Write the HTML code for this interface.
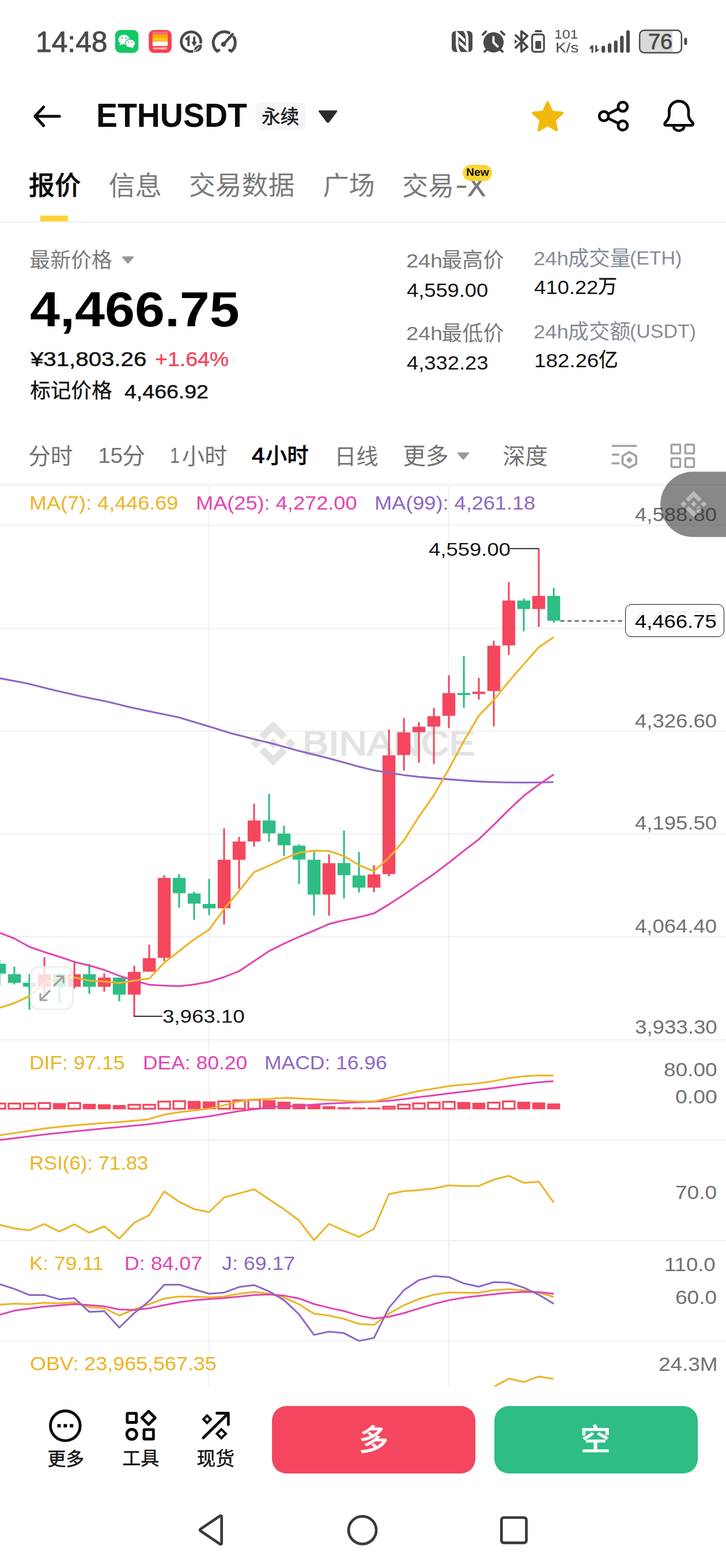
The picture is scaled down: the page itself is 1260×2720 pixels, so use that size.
<!DOCTYPE html>
<html lang="en"><head><meta charset="utf-8"><title>ETHUSDT</title>
<style>
html,body{margin:0;padding:0;background:#fff}
body{width:1260px;height:2720px;position:relative;overflow:hidden;font-family:"Liberation Sans",sans-serif}
.a{position:absolute;display:block}
.t{position:absolute;white-space:nowrap;transform-origin:0 0;margin:0;padding:0}
.ln{position:absolute;left:0;width:1260px;height:2px;background:#eeeeee}
svg text{font-family:"Liberation Sans","Noto Sans CJK SC",sans-serif}
</style></head><body>

<div class="t" style="left:524.8px;top:1258.3px;font-size:61.48px;line-height:61.48px;color:#e3e3e3;transform:scaleX(1.0952);-webkit-text-stroke:2.100px #e3e3e3;">BINANCE</div>
<svg class="a" style="left:0;top:0" width="1260" height="2420" viewBox="0 0 1260 2420">
<rect x="361.9" y="842" width="1.7" height="1563" fill="#eeeeee"/>
<rect x="777.9" y="842" width="1.7" height="1563" fill="#eeeeee"/>
<rect x="0" y="910.4" width="1260" height="1.8" fill="#eeeeee"/>
<rect x="0" y="1088.9" width="1260" height="1.8" fill="#eeeeee"/>
<rect x="0" y="1267.3" width="1260" height="1.8" fill="#eeeeee"/>
<rect x="0" y="1445.7" width="1260" height="1.8" fill="#eeeeee"/>
<rect x="0" y="1624.1" width="1260" height="1.8" fill="#eeeeee"/>
<rect x="0" y="1802.7" width="1260" height="1.8" fill="#eeeeee"/>
<rect x="0" y="1976.8" width="1260" height="1.8" fill="#eeeeee"/>
<rect x="0" y="2151.1" width="1260" height="1.8" fill="#eeeeee"/>
<rect x="0" y="2324.6" width="1260" height="1.8" fill="#eeeeee"/>
<g fill="#e3e3e3">
<path  transform="translate(435.5 1251) scale(0.6111)" d="M38.17 53.2 63 28.4l24.8 24.8 14.5-14.4L63-.5 23.8 38.8zM-.5 63 13.9 48.6 28.3 63 13.9 77.4zM38.17 72.8 63 97.6l24.8-24.8 14.5 14.4L63 126.5 23.8 87.2zM97.7 63l14.4-14.4L126.5 63l-14.4 14.4zM77.6 63 63 48.3 52.2 59.1l-1.3 1.2-2.5 2.6L63 77.6 77.7 63z"/>
</g>
<rect x="-2.5" y="1665" width="3.1" height="45" fill="#2ebd85"/>
<rect x="-12.2" y="1671.8" width="22.4" height="17.1" fill="#2ebd85"/>
<rect x="23.4" y="1677" width="3.1" height="30.7" fill="#2ebd85"/>
<rect x="13.8" y="1690" width="22.4" height="14.9" fill="#2ebd85"/>
<rect x="49.5" y="1689.8" width="3.1" height="61.8" fill="#2ebd85"/>
<rect x="39.8" y="1704.9" width="22.4" height="6.8" fill="#2ebd85"/>
<rect x="75.5" y="1660.4" width="3.1" height="64.6" fill="#f4475e"/>
<rect x="65.8" y="1690" width="22.4" height="21.7" fill="#f4475e"/>
<rect x="101.5" y="1688" width="3.1" height="52" fill="#2ebd85"/>
<rect x="91.8" y="1690" width="22.4" height="21.7" fill="#2ebd85"/>
<rect x="127.5" y="1669.3" width="3.1" height="45.5" fill="#f4475e"/>
<rect x="117.8" y="1690" width="22.4" height="21.7" fill="#f4475e"/>
<rect x="153.4" y="1671.8" width="3.1" height="52.2" fill="#2ebd85"/>
<rect x="143.8" y="1690" width="22.4" height="21.7" fill="#2ebd85"/>
<rect x="179.4" y="1688.3" width="3.1" height="32" fill="#f4475e"/>
<rect x="169.8" y="1695.8" width="22.4" height="15.9" fill="#f4475e"/>
<rect x="205.4" y="1695.8" width="3.1" height="41" fill="#2ebd85"/>
<rect x="195.8" y="1695.8" width="22.4" height="29.6" fill="#2ebd85"/>
<rect x="231.4" y="1675.2" width="3.1" height="87.8" fill="#f4475e"/>
<rect x="221.8" y="1686" width="22.4" height="39.4" fill="#f4475e"/>
<rect x="257.4" y="1638.8" width="3.1" height="46.7" fill="#f4475e"/>
<rect x="247.8" y="1662.1" width="22.4" height="23.4" fill="#f4475e"/>
<rect x="283.4" y="1518.2" width="3.1" height="148.8" fill="#f4475e"/>
<rect x="273.8" y="1523" width="22.4" height="138.6" fill="#f4475e"/>
<rect x="309.4" y="1516.7" width="3.1" height="57.9" fill="#2ebd85"/>
<rect x="299.8" y="1523" width="22.4" height="26.5" fill="#2ebd85"/>
<rect x="335.4" y="1546.7" width="3.1" height="48.7" fill="#2ebd85"/>
<rect x="325.8" y="1550" width="22.4" height="17.5" fill="#2ebd85"/>
<rect x="361.4" y="1524.7" width="3.1" height="62.7" fill="#2ebd85"/>
<rect x="351.8" y="1568" width="22.4" height="7.7" fill="#2ebd85"/>
<rect x="387.4" y="1437" width="3.1" height="166.7" fill="#f4475e"/>
<rect x="377.8" y="1491.4" width="22.4" height="84.3" fill="#f4475e"/>
<rect x="413.4" y="1451.8" width="3.1" height="90" fill="#f4475e"/>
<rect x="403.8" y="1459.7" width="22.4" height="31.7" fill="#f4475e"/>
<rect x="439.4" y="1394.2" width="3.1" height="74.4" fill="#f4475e"/>
<rect x="429.8" y="1423.3" width="22.4" height="36.4" fill="#f4475e"/>
<rect x="465.4" y="1377.1" width="3.1" height="83.2" fill="#2ebd85"/>
<rect x="455.8" y="1423.3" width="22.4" height="22.2" fill="#2ebd85"/>
<rect x="491.4" y="1432.4" width="3.1" height="52.4" fill="#2ebd85"/>
<rect x="481.8" y="1446" width="22.4" height="20.3" fill="#2ebd85"/>
<rect x="517.5" y="1464.9" width="3.1" height="68.4" fill="#2ebd85"/>
<rect x="507.8" y="1466.9" width="22.4" height="24.2" fill="#2ebd85"/>
<rect x="543.5" y="1476.8" width="3.1" height="111.2" fill="#2ebd85"/>
<rect x="533.8" y="1491.4" width="22.4" height="60.4" fill="#2ebd85"/>
<rect x="569.5" y="1482" width="3.1" height="106.6" fill="#f4475e"/>
<rect x="559.8" y="1497.4" width="22.4" height="54.4" fill="#f4475e"/>
<rect x="595.5" y="1440.8" width="3.1" height="117.7" fill="#2ebd85"/>
<rect x="585.8" y="1497.2" width="22.4" height="21.1" fill="#2ebd85"/>
<rect x="621.5" y="1478.1" width="3.1" height="70.2" fill="#2ebd85"/>
<rect x="611.8" y="1518.6" width="22.4" height="21.1" fill="#2ebd85"/>
<rect x="647.5" y="1500.7" width="3.1" height="47" fill="#f4475e"/>
<rect x="637.8" y="1516.9" width="22.4" height="22.8" fill="#f4475e"/>
<rect x="673.5" y="1265.5" width="3.1" height="254.8" fill="#f4475e"/>
<rect x="663.8" y="1310.3" width="22.4" height="206" fill="#f4475e"/>
<rect x="699.5" y="1245.6" width="3.1" height="90.9" fill="#f4475e"/>
<rect x="689.8" y="1270.4" width="22.4" height="39.3" fill="#f4475e"/>
<rect x="725.5" y="1253" width="3.1" height="70.1" fill="#f4475e"/>
<rect x="715.8" y="1260.7" width="22.4" height="9.4" fill="#f4475e"/>
<rect x="751.5" y="1227.9" width="3.1" height="97.5" fill="#f4475e"/>
<rect x="741.8" y="1242.3" width="22.4" height="18.1" fill="#f4475e"/>
<rect x="777.5" y="1171.4" width="3.1" height="91.6" fill="#f4475e"/>
<rect x="767.8" y="1202.3" width="22.4" height="39.4" fill="#f4475e"/>
<rect x="803.5" y="1138" width="3.1" height="89.8" fill="#2ebd85"/>
<rect x="793.8" y="1202.1" width="22.4" height="3.5" fill="#2ebd85"/>
<rect x="829.5" y="1175.9" width="3.1" height="37.6" fill="#f4475e"/>
<rect x="819.8" y="1199.9" width="22.4" height="3.9" fill="#f4475e"/>
<rect x="855.5" y="1111.5" width="3.1" height="148.5" fill="#f4475e"/>
<rect x="845.8" y="1120.1" width="22.4" height="78.6" fill="#f4475e"/>
<rect x="881.5" y="1009.8" width="3.1" height="126.2" fill="#f4475e"/>
<rect x="871.8" y="1041.7" width="22.4" height="77.8" fill="#f4475e"/>
<rect x="907.5" y="1038.3" width="3.1" height="56.7" fill="#2ebd85"/>
<rect x="897.8" y="1041.7" width="22.4" height="14.8" fill="#2ebd85"/>
<rect x="933.5" y="951.9" width="3.1" height="135.7" fill="#f4475e"/>
<rect x="923.8" y="1033.7" width="22.4" height="22.8" fill="#f4475e"/>
<rect x="959.5" y="1019.7" width="3.1" height="60.7" fill="#2ebd85"/>
<rect x="949.8" y="1033.7" width="22.4" height="43" fill="#2ebd85"/>
<polyline fill="none" stroke="#8d67c3" stroke-width="3.1" stroke-linejoin="round" stroke-linecap="butt" points="-5,1175.6 0,1176.6 46.9,1185.5 93.9,1197.3 140.8,1208.1 187.8,1217.5 225.3,1226.8 262.9,1234.8 309.8,1244.2 338,1252.7 363.8,1260.6 399,1271.4 441.2,1282.2 474.1,1290.2 516.3,1301.9 540,1307.7 570.5,1315.4 596.4,1322.5 622.4,1329.7 648.6,1336.2 674.5,1340.2 700.4,1344.5 726.4,1347.6 752.6,1349.9 778.5,1351.9 804.5,1353.9 830.4,1355.6 856.6,1356.7 880,1357.3 908.5,1357.5 934.5,1357.3 960.5,1356.7"/>
<polyline fill="none" stroke="#e144b4" stroke-width="3.1" stroke-linejoin="round" stroke-linecap="butt" points="-1,1618 25,1628 51,1642.5 77,1651.5 103,1659.8 129,1668.4 155,1675 181,1682.6 207,1692.6 233,1701 259,1708.3 285,1709.7 311,1710.8 337,1707.8 363,1703 389,1694.9 415,1684.6 441,1667.2 467,1649.8 493,1636.8 519,1625.2 545,1614.2 571,1602.8 597,1596.5 623,1591 649,1584.4 675,1568.8 701,1552 727,1534 753,1516.3 779,1496.4 805,1475.9 831,1455.9 857,1430.8 883,1404.9 909,1380.6 935,1361.3 961,1343.4"/>
<polyline fill="none" stroke="#ebb424" stroke-width="3.1" stroke-linejoin="round" stroke-linecap="butt" points="-1,1748.5 25,1740 51,1728 77,1705.4 103,1695.5 129,1695.5 155,1701 181,1702.6 207,1705.4 233,1701 259,1697.5 285,1670 311,1649.7 337,1629.5 363,1612.5 389,1576.7 415,1545.2 441,1513 467,1501.6 493,1489.7 519,1479.1 545,1475.6 571,1476.2 597,1485 623,1500.7 649,1511.2 675,1487.8 701,1457.9 727,1416.6 753,1379.5 779,1333.9 805,1285.5 831,1241.4 857,1214.6 883,1182.2 909,1152.3 935,1122.9 961,1105.2"/>
<path d="M885.2 951.6H935.2M232 1762.9H281.7" stroke="#111" stroke-width="1.7" fill="none"/>
<path d="M972.400 1077.300H1084" stroke="#111" stroke-width="1.6" stroke-dasharray="7.2 5.3" fill="none"/>
<rect x="-11.1" y="1914.3" width="20.2" height="9" fill="#fff" stroke="#f4475e" stroke-width="3.2"/>
<rect x="14.9" y="1914.3" width="20.2" height="9" fill="#fff" stroke="#f4475e" stroke-width="3.2"/>
<rect x="40.9" y="1914.3" width="20.2" height="9" fill="#fff" stroke="#f4475e" stroke-width="3.2"/>
<rect x="66.9" y="1913.4" width="20.2" height="9.9" fill="#fff" stroke="#f4475e" stroke-width="3.2"/>
<rect x="91.8" y="1913.5" width="22.4" height="10.8" fill="#f4475e"/>
<rect x="118.9" y="1913.4" width="20.2" height="9.9" fill="#fff" stroke="#f4475e" stroke-width="3.2"/>
<rect x="143.8" y="1914.8" width="22.4" height="9.5" fill="#f4475e"/>
<rect x="169.8" y="1915.6" width="22.4" height="8.7" fill="#f4475e"/>
<rect x="195.8" y="1916.9" width="22.4" height="7.4" fill="#f4475e"/>
<rect x="222.9" y="1916.4" width="20.2" height="6.9" fill="#fff" stroke="#f4475e" stroke-width="3.2"/>
<rect x="248.9" y="1916.4" width="20.2" height="6.9" fill="#fff" stroke="#f4475e" stroke-width="3.2"/>
<rect x="274.9" y="1910.9" width="20.2" height="12.4" fill="#fff" stroke="#f4475e" stroke-width="3.2"/>
<rect x="300.9" y="1910.1" width="20.2" height="13.2" fill="#fff" stroke="#f4475e" stroke-width="3.2"/>
<rect x="325.8" y="1909.7" width="22.4" height="14.6" fill="#f4475e"/>
<rect x="351.8" y="1910.6" width="22.4" height="13.7" fill="#f4475e"/>
<rect x="378.9" y="1910.5" width="20.2" height="12.8" fill="#fff" stroke="#f4475e" stroke-width="3.2"/>
<rect x="404.9" y="1908.8" width="20.2" height="14.5" fill="#fff" stroke="#f4475e" stroke-width="3.2"/>
<rect x="430.9" y="1908" width="20.2" height="15.3" fill="#fff" stroke="#f4475e" stroke-width="3.2"/>
<rect x="455.8" y="1908.5" width="22.4" height="15.8" fill="#f4475e"/>
<rect x="481.8" y="1911.1" width="22.4" height="13.2" fill="#f4475e"/>
<rect x="507.8" y="1914.6" width="22.4" height="9.7" fill="#f4475e"/>
<rect x="533.8" y="1916.8" width="22.4" height="7.5" fill="#f4475e"/>
<rect x="559.8" y="1919" width="22.4" height="5.3" fill="#f4475e"/>
<rect x="585.8" y="1920.7" width="22.4" height="3.6" fill="#f4475e"/>
<rect x="611.8" y="1921.2" width="22.4" height="3.1" fill="#f4475e"/>
<rect x="637.8" y="1921.2" width="22.4" height="3.1" fill="#f4475e"/>
<rect x="664.9" y="1919.7" width="20.2" height="3.6" fill="#fff" stroke="#f4475e" stroke-width="3.2"/>
<rect x="690.9" y="1916.2" width="20.2" height="7.1" fill="#fff" stroke="#f4475e" stroke-width="3.2"/>
<rect x="716.9" y="1914" width="20.2" height="9.3" fill="#fff" stroke="#f4475e" stroke-width="3.2"/>
<rect x="742.9" y="1912.7" width="20.2" height="10.6" fill="#fff" stroke="#f4475e" stroke-width="3.2"/>
<rect x="768.9" y="1911.4" width="20.2" height="11.9" fill="#fff" stroke="#f4475e" stroke-width="3.2"/>
<rect x="793.8" y="1911.6" width="22.4" height="12.7" fill="#f4475e"/>
<rect x="819.8" y="1912.9" width="22.4" height="11.4" fill="#f4475e"/>
<rect x="846.9" y="1912.7" width="20.2" height="10.6" fill="#fff" stroke="#f4475e" stroke-width="3.2"/>
<rect x="872.9" y="1910.6" width="20.2" height="12.7" fill="#fff" stroke="#f4475e" stroke-width="3.2"/>
<rect x="897.8" y="1911.1" width="22.4" height="13.2" fill="#f4475e"/>
<rect x="923.8" y="1912.4" width="22.4" height="11.9" fill="#f4475e"/>
<rect x="949.8" y="1914.2" width="22.4" height="10.1" fill="#f4475e"/>
<polyline fill="none" stroke="#e144b4" stroke-width="3" stroke-linejoin="round" stroke-linecap="butt" points="-5,1978.2 0,1977.6 83.8,1967.2 167.6,1958.8 255.7,1950.4 310.1,1943.3 362.5,1936.6 414.9,1927.4 465.2,1921.1 480,1920 523.6,1917.7 567.2,1914.6 623.9,1912 650,1911.1 674.4,1909.4 700.6,1906.8 726.3,1903.3 752.5,1900.2 778.6,1896.7 804.3,1893.7 830.5,1890.6 856.6,1887.6 882.4,1884.1 908.5,1880.6 934.7,1877.6 960.4,1875.4"/>
<polyline fill="none" stroke="#ebb424" stroke-width="3" stroke-linejoin="round" stroke-linecap="butt" points="-5,1970 0,1969.3 41.9,1963 83.8,1956.7 125.7,1952.5 167.6,1949.1 209.6,1946.2 255.7,1942 285,1933.6 310.1,1929.4 362.5,1923.2 389.8,1916.9 414.9,1910.6 440.1,1907.2 465.2,1906.4 480,1905 501.8,1904.6 545.4,1906.8 597.7,1909.4 623.9,1910.7 650,1910.3 674.4,1905 700.6,1898.5 726.3,1892.8 752.5,1888.5 778.6,1884.1 804.3,1881.5 830.5,1879.3 856.6,1875.4 882.4,1870.2 908.5,1867.1 934.7,1865.4 960.4,1865.8"/>
<polyline fill="none" stroke="#ebb424" stroke-width="3" stroke-linejoin="round" stroke-linecap="butt" points="-1,2124.6 25,2130.9 51,2134.2 77,2123.3 103,2136.3 129,2123.8 155,2138.4 181,2127.5 207,2148.5 233,2121.2 259,2107.8 285,2066.8 311,2084.8 337,2097.4 363,2102.8 389,2077.2 415,2070.1 441,2063 467,2080.6 493,2097.6 519,2117.3 545,2151.3 571,2123 597,2134.8 623,2145.6 649,2131.7 675,2071.5 701,2066.3 727,2064.6 753,2061.5 779,2056.3 805,2057.6 831,2057.2 857,2046.3 883,2039.7 909,2051.9 935,2049.7 961,2085.9"/>
<polyline fill="none" stroke="#ebb424" stroke-width="3" stroke-linejoin="round" stroke-linecap="butt" points="-1,2263.2 25,2261.5 51,2262.3 77,2259.8 103,2261.1 129,2259 155,2267.4 181,2269.4 207,2282 233,2271.5 259,2262.3 285,2252.7 311,2248.9 337,2249.3 363,2250.6 389,2248.9 415,2244.3 441,2240.9 467,2244.3 493,2250.9 519,2262.5 545,2279 571,2282.1 597,2287.8 623,2296.5 649,2298.2 675,2278.6 701,2264.2 727,2253.3 753,2245.9 779,2242 805,2242.4 831,2242.4 857,2238.1 883,2236.3 909,2238.5 935,2242 961,2249.8"/>
<polyline fill="none" stroke="#e144b4" stroke-width="3" stroke-linejoin="round" stroke-linecap="butt" points="-1,2280.8 25,2273.6 51,2269.9 77,2266.5 103,2264.4 129,2262.3 155,2264 181,2266.1 207,2271.5 233,2272.4 259,2269.4 285,2264 311,2259 337,2255.6 363,2253.5 389,2251.8 415,2249.3 441,2246.4 467,2245.6 493,2247.6 519,2252.4 545,2262 571,2268.6 597,2274.2 623,2282.1 649,2287.3 675,2284.3 701,2277.7 727,2269.9 753,2262 779,2255.5 805,2251.1 831,2248.1 857,2245 883,2242.4 909,2241.1 935,2241.5 961,2244.2"/>
<polyline fill="none" stroke="#8d67c3" stroke-width="3" stroke-linejoin="round" stroke-linecap="butt" points="-1,2227.5 25,2235.9 51,2246.4 77,2246.4 103,2253.9 129,2251.8 155,2275.7 181,2274.5 207,2303 233,2277.8 259,2256.9 285,2228.8 311,2228.4 337,2236.8 363,2244.3 389,2242.2 415,2232.6 441,2229.2 467,2240.1 493,2255.4 519,2279.9 545,2315.6 571,2310 597,2312.6 623,2326.1 649,2320.9 675,2268.6 701,2238.1 727,2220.6 753,2213.6 779,2215.4 805,2226.3 831,2232 857,2224.1 883,2225 909,2233.7 935,2245.9 961,2261.6"/>
<clipPath id="cb"><rect x="0" y="2326" width="1260" height="79"/></clipPath>
<g clip-path="url(#cb)"><polyline fill="none" stroke="#ebb424" stroke-width="3" stroke-linejoin="round" stroke-linecap="butt" points="845,2412 858.1,2405.2 883.4,2391.4 908.8,2397.3 934.6,2387.8 960.5,2392"/></g>
</svg>
<div class="ln" style="top:383.5px"></div>
<div class="ln" style="top:840.3px"></div>
<div class="t" style="left:62.4px;top:47.7px;font-size:50.43px;line-height:50.43px;color:#4a4a4a;transform:scaleX(0.9870);-webkit-text-stroke:0.9px #4a4a4a;">14:48</div>
<div class="t" style="left:167.1px;top:171.8px;font-size:56.98px;line-height:56.98px;color:#0b0b0b;font-weight:700;transform:scaleX(0.9731);">ETHUSDT</div>
<div class="a" style="left:444.300px;top:177.800px;width:85.400px;height:47.100px;border-radius:8px;background:#f5f5f5"></div>
<svg class="a" style="left:453.3px;top:183.9px" width="67" height="34.2" viewBox="0 0 67 34.2"><text x="0.89" y="29.52" font-size="32.76" fill="#1e1e1e" stroke="#1e1e1e" stroke-width="0.6">永续</text></svg>
<svg class="a" style="left:48.5px;top:297.6px" width="92" height="46.5" viewBox="0 0 92 46.5"><text x="0.69" y="40.30" font-size="45.22" font-weight="500" fill="#0b0b0b" stroke="#0b0b0b" stroke-width="0.5">报价</text></svg>
<svg class="a" style="left:187.6px;top:297.2px" width="92.4" height="47.3" viewBox="0 0 92.4 47.3"><text x="0.71" y="41.30" font-size="45.97" fill="#7a7a7a">信息</text></svg>
<svg class="a" style="left:328px;top:297.2px" width="183.4" height="47.3" viewBox="0 0 183.4 47.3"><text x="-0.11" y="41.20" font-size="45.85" fill="#7a7a7a">交易数据</text></svg>
<svg class="a" style="left:559.7px;top:297.6px" width="90.3" height="46.5" viewBox="0 0 90.3 46.5"><text x="0.47" y="40.19" font-size="45.09" fill="#7a7a7a">广场</text></svg>
<svg class="a" style="left:697.9px;top:297.6px" width="87.9" height="46.6" viewBox="0 0 87.9 46.6"><text x="-0.07" y="40.57" font-size="45.11" fill="#7a7a7a">交易</text></svg>
<div class="a" style="left:792.9px;top:322.4px;width:16.6px;height:3.8px;background:#7a7a7a"></div>
<div class="t" style="left:810.5px;top:298.8px;font-size:48.69px;line-height:48.69px;color:#7a7a7a;transform:scaleX(0.9914);-webkit-text-stroke:0.8px #7a7a7a;">X</div>
<div class="a" style="left:70.2px;top:374.3px;width:48.2px;height:9.4px;background:#fcd535"></div>
<div class="a" style="left:803.1px;top:285.7px;width:50.7px;height:28.1px;border-radius:14.1px;background:#fcd535"></div>
<div class="t" style="left:808.7px;top:290.3px;font-size:18.75px;line-height:18.75px;color:#111;font-weight:700;transform:scaleX(1.0285);">New</div>
<svg class="a" style="left:51.4px;top:431.8px" width="144.8" height="37.4" viewBox="0 0 144.8 37.4"><text x="0.32" y="32.24" font-size="35.83" fill="#7a7a7a">最新价格</text></svg>
<svg class="a" style="left:211.300px;top:444.200px" width="22" height="14" viewBox="0 0 22 14"><path d="M2.400 .800h17.200q2.800 0 1 2.100l-7.900 9.400q-1.700 1.900-3.400 0L1.400 2.900q-1.800-2.100 1-2.100z" fill="#999"/></svg>
<div class="t" style="left:52px;top:493.8px;font-size:85.43px;line-height:85.43px;color:#000;font-weight:700;transform:scaleX(1.0941);">4,466.75</div>
<div class="t" style="left:53.4px;top:606.1px;font-size:34.71px;line-height:34.71px;color:#111;transform:scaleX(1.1588);-webkit-text-stroke:0.5px #111;">¥31,803.26</div>
<div class="t" style="left:268.8px;top:606.1px;font-size:34.71px;line-height:34.71px;color:#f0465c;transform:scaleX(1.0797);-webkit-text-stroke:0.4px #f0465c;">+1.64%</div>
<svg class="a" style="left:51.4px;top:658.1px" width="144.8" height="37.1" viewBox="0 0 144.8 37.1"><text x="1.15" y="31.99" font-size="35.62" fill="#111" stroke="#111" stroke-width="0.35">标记价格</text></svg>
<div class="t" style="left:216.2px;top:661.5px;font-size:34.14px;line-height:34.14px;color:#111;transform:scaleX(1.0989);-webkit-text-stroke:0.5px #111;">4,466.92</div>
<div class="t" style="left:705.3px;top:435.5px;font-size:33.57px;line-height:33.57px;color:#7a7a7a;transform:scaleX(1.1276);">24h</div>
<svg class="a" style="left:765.9px;top:432px" width="109.4" height="37.6" viewBox="0 0 109.4 37.6"><text x="0.31" y="32.40" font-size="36.06" fill="#7a7a7a">最高价</text></svg>
<div class="t" style="left:706.4px;top:486.6px;font-size:33.57px;line-height:33.57px;color:#111;transform:scaleX(1.0809);">4,559.00</div>
<div class="t" style="left:705.3px;top:562.3px;font-size:33.57px;line-height:33.57px;color:#7a7a7a;transform:scaleX(1.1276);">24h</div>
<svg class="a" style="left:765.9px;top:559.2px" width="109.4" height="37.5" viewBox="0 0 109.4 37.5"><text x="0.31" y="32.36" font-size="36.06" fill="#7a7a7a">最低价</text></svg>
<div class="t" style="left:706.4px;top:613.4px;font-size:33.57px;line-height:33.57px;color:#111;transform:scaleX(1.0823);">4,332.23</div>
<div class="t" style="left:925.9px;top:431.9px;font-size:33.00px;line-height:33.00px;color:#858c99;transform:scaleX(1.1043);">24h</div>
<svg class="a" style="left:984.5px;top:427.6px" width="110.4" height="38.1" viewBox="0 0 110.4 38.1"><text x="0.69" y="32.95" font-size="36.45" fill="#858c99">成交量</text></svg>
<div class="t" style="left:1093.1px;top:431.4px;font-size:33.58px;line-height:33.58px;color:#858c99;transform:scaleX(1.0076);">(ETH)</div>
<div class="t" style="left:926.9px;top:483.2px;font-size:32.29px;line-height:32.29px;color:#111;transform:scaleX(1.1267);">410.22</div>
<svg class="a" style="left:1036.8px;top:480px" width="33" height="33.3" viewBox="0 0 33 33.3"><text x="0.91" y="28.46" font-size="33" fill="#111" stroke="#111" stroke-width="0.4">万</text></svg>
<div class="t" style="left:925.9px;top:558.7px;font-size:33.00px;line-height:33.00px;color:#858c99;transform:scaleX(1.1043);">24h</div>
<svg class="a" style="left:984.5px;top:554.5px" width="110.4" height="37.9" viewBox="0 0 110.4 37.9"><text x="0.70" y="32.77" font-size="36.24" fill="#858c99">成交额</text></svg>
<div class="t" style="left:1093.1px;top:558.2px;font-size:33.58px;line-height:33.58px;color:#858c99;transform:scaleX(1.0110);">(USDT)</div>
<div class="t" style="left:927.1px;top:610px;font-size:32.29px;line-height:32.29px;color:#111;transform:scaleX(1.1363);">182.26</div>
<svg class="a" style="left:1037.7px;top:606.3px" width="34.4" height="35" viewBox="0 0 34.4 35"><text x="0.96" y="30.36" font-size="33.7" fill="#111" stroke="#111" stroke-width="0.4">亿</text></svg>
<svg class="a" style="left:49px;top:770.5px" width="78" height="39.4" viewBox="0 0 78 39.4"><text x="0.30" y="34.22" font-size="38.58" fill="#727272">分时</text></svg>
<div class="t" style="left:169.6px;top:772.9px;font-size:36.14px;line-height:36.14px;color:#727272;transform:scaleX(1.0715);">15</div>
<svg class="a" style="left:211.5px;top:770.2px" width="40.5" height="40" viewBox="0 0 40.5 40"><text x="0.25" y="34.72" font-size="39.80" fill="#727272">分</text></svg>
<div class="t" style="left:295.2px;top:772.9px;font-size:36.14px;line-height:36.14px;color:#727272;transform:scaleX(0.8342);">1</div>
<svg class="a" style="left:315px;top:770.3px" width="79.6" height="39.9" viewBox="0 0 79.6 39.9"><text x="0.75" y="34.71" font-size="39.17" fill="#727272">小时</text></svg>
<div class="t" style="left:436.9px;top:772.9px;font-size:36.14px;line-height:36.14px;color:#000;transform:scaleX(1.1091);-webkit-text-stroke:1.1px #000;">4</div>
<svg class="a" style="left:459.5px;top:771.1px" width="76.2" height="38.3" viewBox="0 0 76.2 38.3"><text x="0.96" y="33.22" font-size="37.25" font-weight="500" fill="#000" stroke="#000" stroke-width="0.4">小时</text></svg>
<svg class="a" style="left:585.2px;top:770.8px" width="72" height="39" viewBox="0 0 72 39"><text x="-4.70" y="34.04" font-size="38.05" fill="#727272">日线</text></svg>
<svg class="a" style="left:699.4px;top:769.9px" width="79.4" height="40.7" viewBox="0 0 79.4 40.7"><text x="0.13" y="35.47" font-size="39.75" fill="#727272">更多</text></svg>
<svg class="a" style="left:793.200px;top:784.200px" width="22" height="14" viewBox="0 0 22 14"><path d="M2.400 .800h17.200q2.800 0 1 2.100l-7.900 9.400q-1.700 1.900-3.400 0L1.400 2.900q-1.800-2.100 1-2.100z" fill="#999"/></svg>
<svg class="a" style="left:872px;top:770.1px" width="79.3" height="40.2" viewBox="0 0 79.3 40.2"><text x="0.51" y="35.07" font-size="39.14" fill="#727272">深度</text></svg>
<div class="t" style="left:50.9px;top:856.3px;font-size:33.29px;line-height:33.29px;color:#ebb424;transform:scaleX(1.0825);">MA(7): 4,446.69</div>
<div class="t" style="left:339.5px;top:856.3px;font-size:33.29px;line-height:33.29px;color:#e144b4;transform:scaleX(1.0871);">MA(25): 4,272.00</div>
<div class="t" style="left:649.6px;top:856.3px;font-size:33.29px;line-height:33.29px;color:#8d67c3;transform:scaleX(1.0857);">MA(99): 4,261.18</div>
<div class="t" style="left:50.7px;top:1827.7px;font-size:32.57px;line-height:32.57px;color:#ebb424;transform:scaleX(1.0876);">DIF: 97.15</div>
<div class="t" style="left:247.7px;top:1827.7px;font-size:32.57px;line-height:32.57px;color:#e144b4;transform:scaleX(1.0877);">DEA: 80.20</div>
<div class="t" style="left:459.4px;top:1827.7px;font-size:32.57px;line-height:32.57px;color:#8d67c3;transform:scaleX(1.0877);">MACD: 16.96</div>
<div class="t" style="left:50.8px;top:2001.9px;font-size:32.57px;line-height:32.57px;color:#ebb424;transform:scaleX(1.0659);">RSI(6): 71.83</div>
<div class="t" style="left:50.7px;top:2176px;font-size:32.57px;line-height:32.57px;color:#ebb424;transform:scaleX(1.0814);">K: 79.11</div>
<div class="t" style="left:215.9px;top:2176px;font-size:32.57px;line-height:32.57px;color:#e144b4;transform:scaleX(1.0966);">D: 84.07</div>
<div class="t" style="left:385px;top:2176px;font-size:32.57px;line-height:32.57px;color:#8d67c3;transform:scaleX(1.0981);">J: 69.17</div>
<div class="t" style="left:52.2px;top:2350.1px;font-size:32.57px;line-height:32.57px;color:#ebb424;transform:scaleX(1.1017);">OBV: 23,965,567.35</div>
<div class="t" style="left:744.2px;top:938px;font-size:31.86px;line-height:31.86px;color:#111;transform:scaleX(1.1448);">4,559.00</div>
<div class="t" style="left:282.1px;top:1748.1px;font-size:31.57px;line-height:31.57px;color:#111;transform:scaleX(1.1606);">3,963.10</div>
<div class="t" style="left:1102.2px;top:876.7px;font-size:32.86px;line-height:32.86px;color:#717171;transform:scaleX(1.1115);">4,588.80</div>
<div class="t" style="left:1102.2px;top:1234.5px;font-size:32.86px;line-height:32.86px;color:#717171;transform:scaleX(1.1115);">4,326.60</div>
<div class="t" style="left:1102.2px;top:1412.3px;font-size:32.86px;line-height:32.86px;color:#717171;transform:scaleX(1.1115);">4,195.50</div>
<div class="t" style="left:1102.2px;top:1590.8px;font-size:32.86px;line-height:32.86px;color:#717171;transform:scaleX(1.1115);">4,064.40</div>
<div class="t" style="left:1101.6px;top:1765.7px;font-size:32.86px;line-height:32.86px;color:#717171;transform:scaleX(1.1159);">3,933.30</div>
<div class="t" style="left:1102.2px;top:1056.1px;font-size:32.86px;line-height:32.86px;color:#717171;transform:scaleX(1.1115);">4,457.70</div>
<div class="a" style="left:1085.100px;top:1047.700px;width:170px;height:55.300px;border:1.800px solid #111;border-radius:11px;background:rgba(255,255,255,.86);box-sizing:content-box"></div>
<div class="t" style="left:1102px;top:1063.3px;font-size:31.29px;line-height:31.29px;color:#000;transform:scaleX(1.1633);">4,466.75</div>
<div class="t" style="left:1151.8px;top:1838.7px;font-size:33.29px;line-height:33.29px;color:#717171;transform:scaleX(1.1111);">80.00</div>
<div class="t" style="left:1171.6px;top:1885.5px;font-size:33.29px;line-height:33.29px;color:#717171;transform:scaleX(1.1225);">0.00</div>
<div class="t" style="left:1171.9px;top:2053.4px;font-size:32.57px;line-height:32.57px;color:#717171;transform:scaleX(1.1365);">70.0</div>
<div class="t" style="left:1152.5px;top:2178px;font-size:32.57px;line-height:32.57px;color:#717171;transform:scaleX(1.1215);">110.0</div>
<div class="t" style="left:1171.9px;top:2235px;font-size:32.57px;line-height:32.57px;color:#717171;transform:scaleX(1.1362);">60.0</div>
<div class="t" style="left:1142.9px;top:2350.6px;font-size:32.57px;line-height:32.57px;color:#717171;transform:scaleX(1.1332);">24.3M</div>
<svg class="a" style="left:81.5px;top:2512.8px" width="64.3" height="33.4" viewBox="0 0 64.3 33.4"><text x="0.51" y="28.76" font-size="31.79" fill="#111" stroke="#111" stroke-width="0.5">更多</text></svg>
<svg class="a" style="left:211.6px;top:2513.5px" width="65" height="31.9" viewBox="0 0 65 31.9"><text x="0.34" y="27.29" font-size="31.94" fill="#111" stroke="#111" stroke-width="0.5">工具</text></svg>
<svg class="a" style="left:340.6px;top:2512.3px" width="66.1" height="34.3" viewBox="0 0 66.1 34.3"><text x="0.60" y="29.59" font-size="32.65" fill="#111" stroke="#111" stroke-width="0.5">现货</text></svg>
<div class="a" style="left:472.3px;top:2439.2px;width:352.6px;height:116.8px;border-radius:25px;background:#f4475f"></div>
<div class="a" style="left:857.9px;top:2439.2px;width:353.3px;height:116.8px;border-radius:25px;background:#2ebd85"></div>
<svg class="a" style="left:623.7px;top:2469px" width="48.9" height="53.1" viewBox="0 0 48.9 53.1"><text x="-1.36" y="46.57" font-size="51.5" font-weight="500" fill="#fff" stroke="#fff" stroke-width="0.5">多</text></svg>
<svg class="a" style="left:1009.2px;top:2469px" width="49.3" height="51.5" viewBox="0 0 49.3 51.5"><text x="-1.68" y="46.87" font-size="52.6" font-weight="500" fill="#fff" stroke="#fff" stroke-width="0.5">空</text></svg>
<svg class="a" style="left:0;top:0" width="1260" height="2720" viewBox="0 0 1260 2720">
<rect x="199.8" y="52" width="40.5" height="39.7" rx="9" fill="#14c864"/>
<g fill="#fff"><ellipse cx="215.2" cy="68.6" rx="9.8" ry="8.3"/><path d="M208.5 74.5l-1.2 4.6 5.2-2.6z"/></g>
<ellipse cx="226" cy="75.4" rx="9.4" ry="8" fill="#14c864"/>
<g fill="#fff"><ellipse cx="226" cy="75.4" rx="8" ry="6.7"/><path d="M230.5 80.4l1.3 3.6-4.6-2.2z"/></g>
<g fill="#14c864"><circle cx="211.9" cy="66" r="1.35"/><circle cx="218.6" cy="66" r="1.35"/><circle cx="223.2" cy="73.3" r="1.15"/><circle cx="228.6" cy="73.3" r="1.15"/></g>
<rect x="258.2" y="52" width="39.6" height="39.7" rx="9" fill="#f3424f"/>
<rect x="264.8" y="54.8" width="26.2" height="5" fill="#f87f7c" opacity=".75"/>
<rect x="264.8" y="59.6" width="26.2" height="6" fill="#ffa51f"/><rect x="264.8" y="65.5" width="26.2" height="6" fill="#ffcf08"/><rect x="264.8" y="71.9" width="26.2" height="7.8" rx="1" fill="#fff"/>
<text x="278" y="86.3" font-family="Liberation Sans, sans-serif" font-weight="700" font-size="5.4" fill="#fff" text-anchor="middle" textLength="24" lengthAdjust="spacingAndGlyphs">HUAWEI</text>
<g fill="none" stroke="#4a4a4a" stroke-width="4.8" stroke-linecap="round"><path d="M338 88A17 17 0 1 1 348.400 74"/></g>
<g fill="none" stroke="#4a4a4a" stroke-width="4" stroke-linecap="butt" stroke-linejoin="miter"><path d="M322.200 68.600l5-4V80"/><path d="M337 63.600V77"/></g>
<path d="M332 72.600h10l-5 8.200z" fill="#4a4a4a"/>
<path d="M336.400 90.600c-1.600-8 3.800-14.200 14.800-14.200 .8 9.600-5 15.400-14.800 14.200z" fill="#4a4a4a" stroke="#fff" stroke-width="1.6"/>
<path d="M338.2 89l7.4-7.2" stroke="#fff" stroke-width="1.3" fill="none"/>
<g fill="none" stroke="#4a4a4a" stroke-width="5" stroke-linecap="round" stroke-linejoin="round"><path d="M379.800 87.200L376.900 88.900A19.200 19.200 0 0 1 397.300 56.800"/><path d="M405.800 64.600A19.200 19.200 0 0 1 401.500 88.900L398.600 87.200"/></g>
<path d="M403.600 59.400L388 76.800" stroke="#4a4a4a" stroke-width="4.600" stroke-linecap="round"/><circle cx="388" cy="76.800" r="4.400" fill="#4a4a4a"/>
<rect x="784" y="53.800" width="36" height="36.500" rx="6.800" fill="#4a4a4a"/>
<path d="M790.980 54.050L792.340 54.050L807.180 67.730L807.070 73.770L795.510 63.350L795.610 76.180Q795.710 85.240 800.130 90.400L794.350 90.400Q791.180 84.230 790.980 76.180Z" fill="#fff"/><path d="M790.980 54.050L792.340 54.050L807.180 67.730L807.070 73.770L795.510 63.350L795.610 76.180Q795.710 85.240 800.130 90.400L794.350 90.400Q791.180 84.230 790.980 76.180Z" fill="#fff" transform="rotate(180 802.020 72.030)"/>
<circle cx="856.500" cy="73.500" r="17.600" fill="#4a4a4a"/>
<g fill="none" stroke="#4a4a4a" stroke-width="3.800" stroke-linecap="round"><path d="M837.900 60l5.600-5.300M875.200 60l-5.600-5.300M845.100 86.200l-4.200 3.300M868.200 86.200l4.100 3.300"/></g>
<path d="M856.400 64.200V73.700L863.600 80.600" fill="none" stroke="#fff" stroke-width="3.900" stroke-linecap="round" stroke-linejoin="round"/>
<path d="M895 61.200L915.300 81.200 904.900 89.600V54.200L915.300 62.200 895 82.600" fill="none" stroke="#4a4a4a" stroke-width="3.900" stroke-linejoin="round" stroke-linecap="round"/>
<path d="M893.200 67.900l5.200 4.100-5.200 4z" fill="#4a4a4a"/>
<rect x="923.600" y="59.700" width="20.500" height="30.200" rx="4" fill="none" stroke="#4a4a4a" stroke-width="3.200"/>
<rect x="928.100" y="52.200" width="12.600" height="3.700" rx="1.850" fill="#4a4a4a"/><rect x="929.100" y="71.100" width="10.100" height="13.600" rx="1.800" fill="#4a4a4a"/>
<g fill="#4a4a4a">
<rect x="1044" y="79.2" width="6.200" height="12.4" rx="3"/>
<rect x="1054.9" y="75.2" width="6.200" height="16.400" rx="3"/>
<rect x="1065.6" y="70.2" width="6.200" height="21.400" rx="3"/>
<rect x="1076.2" y="62.1" width="6.200" height="29.500" rx="3"/>
<rect x="1086.8" y="52.4" width="6.200" height="39.200" rx="3"/>
<path d="M1026.500 78.600h3.100V91.500h-3.100V84.600h-4.200zM1033.200 78.400h3.100V85.400h4.600l-7.700 6.300z"/>
</g>
<clipPath id="bc"><rect x="1110.100" y="52.400" width="72.700" height="39.200" rx="8.200"/></clipPath>
<rect x="1110.100" y="52.400" width="57" height="39.200" fill="#d9d9d9" clip-path="url(#bc)"/>
<rect x="1110.100" y="52.400" width="72.700" height="39.200" rx="8.200" fill="none" stroke="#4a4a4a" stroke-width="2.500"/>
<rect x="1187.400" y="65.500" width="5" height="12.500" rx="2.500" fill="#4a4a4a"/>
<path d="M103.200 201.800H61.500M75.700 185.600L60.800 201.800 75.700 218" fill="none" stroke="#0b0b0b" stroke-width="5" stroke-linecap="round" stroke-linejoin="round"/>
<path d="M555 191.500h28.200q3.500 0 1.400 2.800L571.700 211.500q-2.600 3.100-5.200 0L553.600 194.300q-2.100-2.800 1.400-2.800z" fill="#2a2a2a"/>
<polygon points="950.5,177.700 957.8,194.100 975.700,196 962.400,208.100 966.100,225.600 950.500,216.700 934.900,225.600 938.600,208.100 925.300,196 943.200,194.100" fill="#f0b90b" stroke="#f0b90b" stroke-width="4.500" stroke-linejoin="round"/>
<g fill="none" stroke="#0b0b0b" stroke-width="4.800"><circle cx="1048.100" cy="201.500" r="8.050"/><circle cx="1080.800" cy="185.100" r="8.050"/><circle cx="1080.800" cy="217.700" r="8.050"/><path d="M1055.300 197.900l18.300-9.200M1055.300 205.100l18.300 9.100"/></g>
<path d="M1178.200 175.500C1168.500 175.500 1161.400 183 1161.400 192.700V200.200C1160.800 206 1158.500 208.500 1155.500 211.500C1153 214 1152.800 217.400 1156.500 217.400H1199.900C1203.600 217.400 1203.400 214 1200.900 211.500C1197.900 208.500 1195.600 206 1195 200.200V192.700C1195 183 1187.900 175.500 1178.200 175.500Z" fill="none" stroke="#0b0b0b" stroke-width="4.800" stroke-linejoin="round"/>
<path d="M1169.200 219.400A9 7.300 0 0 0 1187.200 219.400" fill="none" stroke="#0b0b0b" stroke-width="4.600"/>
<g fill="none" stroke="#a1a1a1" stroke-width="3.700" stroke-linecap="round" stroke-linejoin="round"><path d="M1063.400 773.500h40.400M1063.400 788.600h10.200M1063.400 803.600h10.200"/><path d="M1092.300 784.200l11.800 6.800v13.600l-11.800 6.800-11.800-6.800v-13.600z"/></g>
<path d="M1092.300 792.600l5.500 5.500-5.500 5.500-5.500-5.500z" fill="#a1a1a1"/>
<g fill="none" stroke="#a1a1a1" stroke-width="3.500" stroke-linejoin="round">
<rect x="1165.3" y="771.3" width="15.200" height="15.200" rx="1.600"/>
<rect x="1165.3" y="795" width="15.200" height="15.200" rx="1.600"/>
<rect x="1189.3" y="771.3" width="15.200" height="15.200" rx="1.600"/>
<rect x="1189.3" y="795" width="15.200" height="15.200" rx="1.600"/>
</g>
<rect x="53.200" y="1677.200" width="73" height="73.600" rx="14" fill="#fff" fill-opacity=".8" stroke="#ebebeb" stroke-width="2.400"/>
<g fill="none" stroke="#a0a0a0" stroke-width="3.200" stroke-linecap="round" stroke-linejoin="round"><path d="M94 1709.500l15.500-15.500M99 1693.500h11v11M86 1719l-15.500 15.500M81 1735h-11v-11"/></g>
<path d="M1260 818.200h-57.200a56.700 56.700 0 0 0 0 113.400H1260z" fill="#1e1e22" fill-opacity=".53"/>
<path fill="rgba(255,255,255,.42)" transform="translate(1181.4 851.8) scale(0.3571)" d="M38.17 53.2 63 28.4l24.8 24.8 14.5-14.4L63-.5 23.8 38.800zM-.5 63 13.900 48.600 28.300 63 13.900 77.400zM38.170 72.800 63 97.600l24.800-24.800 14.500 14.400L63 126.500 23.800 87.200zM97.700 63l14.400-14.400L126.500 63l-14.400 14.400zM77.600 63 63 48.300 52.200 59.100l-1.300 1.200-2.500 2.600L63 77.600 77.700 63z"/>
<circle cx="113.300" cy="2473.300" r="25.800" fill="none" stroke="#0b0b0b" stroke-width="4.900"/>
<rect x="99.5" y="2470.300" width="6" height="6" rx=".800" fill="#0b0b0b"/>
<rect x="110.3" y="2470.300" width="6" height="6" rx=".800" fill="#0b0b0b"/>
<rect x="121.2" y="2470.300" width="6" height="6" rx=".800" fill="#0b0b0b"/>
<g fill="none" stroke="#0b0b0b" stroke-width="4.900" stroke-linejoin="round"><rect x="220.800" y="2451.700" width="15.800" height="15.800" rx="1"/><path d="M257.800 2448.100l11.500 11.500-11.500 11.500-11.500-11.500z"/><circle cx="228.700" cy="2488.100" r="8.600"/><rect x="250" y="2479.900" width="16.300" height="16.300" rx="1"/></g>
<g fill="none" stroke="#0b0b0b" stroke-width="4.800" stroke-linecap="round" stroke-linejoin="round"><path d="M352.800 2494.300L395.800 2452M376.500 2451.500h19.800v19.800"/></g>
<g fill="none" stroke="#0b0b0b" stroke-width="4" stroke-linejoin="miter"><path d="M359.400 2455.500l6.400 6.400-6.400 6.400-6.400-6.400zM384.200 2479.300l7.800 7.800-7.800 7.800-7.800-7.800z"/></g>
<path d="M384.600 2631.500v45.200q0 3.400-3 1.700l-33.400-22.600q-2.400-1.700 0-3.400l33.400-22.600q3-1.700 3 1.700z" fill="none" stroke="#3a3a3a" stroke-width="4.700" stroke-linejoin="round"/>
<circle cx="629" cy="2654.300" r="24" fill="none" stroke="#3a3a3a" stroke-width="4.700"/>
<rect x="870.300" y="2632.500" width="43.200" height="43.800" rx="4" fill="none" stroke="#3a3a3a" stroke-width="4.700"/>
</svg>
<div class="t" style="left:962.3px;top:49.1px;font-size:22.57px;line-height:22.57px;color:#4a4a4a;transform:scaleX(1.0965);">101</div>
<div class="t" style="left:964.3px;top:71.1px;font-size:23.84px;line-height:23.84px;color:#4a4a4a;transform:scaleX(1.1637);">K/s</div>
<div class="t" style="left:1124.6px;top:54.1px;font-size:37.57px;line-height:37.57px;color:#4a4a4a;transform:scaleX(1.0101);-webkit-text-stroke:0.9px #4a4a4a;">76</div>
</body></html>
